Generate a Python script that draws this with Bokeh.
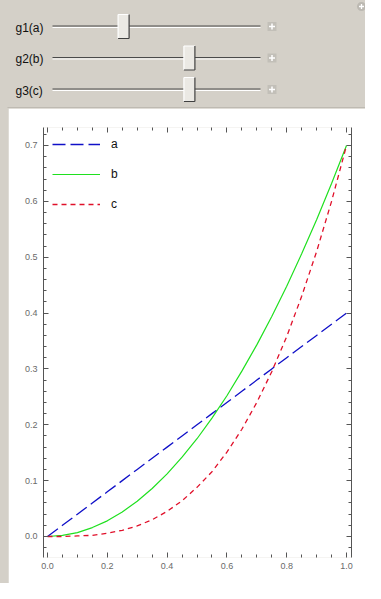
from bokeh.plotting import figure
from bokeh.models import (Range1d, LinearAxis, FixedTicker, NumeralTickFormatter,
                          CustomJSTickFormatter, Legend, LegendItem, Spacer)
from bokeh.layouts import column, row
from bokeh.core.properties import value
from bokeh.embed import file_html
from bokeh.resources import INLINE

# ---------------- data ----------------
x_vals = [0.0, 0.05, 0.1, 0.15, 0.2, 0.25, 0.3, 0.35, 0.4, 0.45, 0.5,
          0.55, 0.6, 0.65, 0.7, 0.75, 0.8, 0.85, 0.9, 0.95, 1.0]
a_vals = [0.0, 0.02, 0.04, 0.06, 0.08, 0.10, 0.12, 0.14, 0.16, 0.18, 0.20,
          0.22, 0.24, 0.26, 0.28, 0.30, 0.32, 0.34, 0.36, 0.38, 0.40]
b_vals = [0.0, 0.002, 0.007, 0.016, 0.028, 0.044, 0.063, 0.086, 0.112, 0.142, 0.175,
          0.212, 0.252, 0.296, 0.343, 0.394, 0.448, 0.506, 0.567, 0.632, 0.700]
c_vals = [0.0, 0.000, 0.001, 0.002, 0.006, 0.011, 0.019, 0.030, 0.045, 0.064, 0.088,
          0.116, 0.151, 0.192, 0.240, 0.295, 0.358, 0.430, 0.510, 0.600, 0.700]
series_names = ["a", "b", "c"]

x_ticks = [0.0, 0.2, 0.4, 0.6, 0.8, 1.0]
y_ticks = [0.0, 0.1, 0.2, 0.3, 0.4, 0.5, 0.6, 0.7]

slider_labels = ["g1(a)", "g2(b)", "g3(c)"]
slider_fraction = [0.333, 0.667, 0.667]

PANEL = "#d4d0c8"

# ---------------- control panel (decorative) ----------------
ctrl = figure(width=365, height=108, x_range=Range1d(0, 365), y_range=Range1d(108, 0),
              output_backend="svg", toolbar_location=None,
              x_axis_type=None, y_axis_type=None, min_border=0)
ctrl.frame_align = False
ctrl.grid.visible = False
ctrl.outline_line_color = None
ctrl.background_fill_color = PANEL
ctrl.border_fill_color = PANEL

rows_y = [26, 57.5, 89]
track_x0, track_x1 = 52, 260
thumb_x = [57.5 + f * 197 for f in slider_fraction]

ctrl.text(x=[15] * 3, y=[r + 1 for r in rows_y], text=slider_labels,
          text_baseline="middle", text_align="left",
          text_font=value("Liberation Sans"), text_font_size="12px", text_color="#111111")
ctrl.segment(x0=[track_x0] * 3, y0=[r - 0.5 for r in rows_y], x1=[track_x1] * 3,
             y1=[r - 0.5 for r in rows_y], line_color="#4a4a4a", line_width=1.2)
ctrl.segment(x0=[track_x0] * 3, y0=[r + 1 for r in rows_y], x1=[track_x1] * 3,
             y1=[r + 1 for r in rows_y], line_color="#ffffff", line_width=1)
# thumbs
ctrl.rect(x=thumb_x, y=rows_y, width=11, height=24, fill_color="#ebe9e4", line_color=None)
ctrl.segment(x0=[t - 5.5 for t in thumb_x], y0=[r - 12 for r in rows_y],
             x1=[t - 5.5 for t in thumb_x], y1=[r + 12 for r in rows_y],
             line_color="#ffffff", line_width=1.2)
ctrl.segment(x0=[t - 5.5 for t in thumb_x], y0=[r - 12 for r in rows_y],
             x1=[t + 5.5 for t in thumb_x], y1=[r - 12 for r in rows_y],
             line_color="#ffffff", line_width=1.2)
ctrl.segment(x0=[t + 5.5 for t in thumb_x], y0=[r - 12 for r in rows_y],
             x1=[t + 5.5 for t in thumb_x], y1=[r + 12 for r in rows_y],
             line_color="#404040", line_width=1.2)
ctrl.segment(x0=[t - 5.5 for t in thumb_x], y0=[r + 12 for r in rows_y],
             x1=[t + 5.5 for t in thumb_x], y1=[r + 12 for r in rows_y],
             line_color="#404040", line_width=1.2)
# plus boxes
ctrl.rect(x=[271.5] * 3, y=rows_y, width=9, height=9, fill_color="#c2bfb8", line_color=None)
ctrl.segment(x0=[268.5] * 3, y0=rows_y, x1=[274.5] * 3, y1=rows_y, line_color="white", line_width=1.5)
ctrl.segment(x0=[271.5] * 3, y0=[r - 3 for r in rows_y], x1=[271.5] * 3,
             y1=[r + 3 for r in rows_y], line_color="white", line_width=1.5)
ctrl.scatter(x=[361], y=[6], size=9, fill_color="#bcb9b2", line_color=None)
ctrl.segment(x0=[358.5, 361], y0=[6, 3.5], x1=[363.5, 361], y1=[6, 8.5],
             line_color="white", line_width=1.3)
# thin frame edge of the white plot box
ctrl.segment(x0=[7], y0=[107.5], x1=[365], y1=[107.5], line_color="#a8a49c", line_width=1)

# ---------------- main plot ----------------
p = figure(width=357, height=475,
           x_range=Range1d(-0.0134, 1.0167), y_range=Range1d(-0.0376, 0.7322),
           output_backend="svg", toolbar_location=None,
           x_axis_type=None, y_axis_type=None,
           min_border_left=35, min_border_right=14, min_border_top=19, min_border_bottom=26)
p.frame_align = False
p.grid.visible = False
p.outline_line_color = None
p.background_fill_color = "white"
p.border_fill_color = "white"

x_minor = [round(i * 0.05, 2) for i in range(0, 21) if i % 4]
y_minor = [round(i * 0.02, 2) for i in range(-1, 37) if i % 5]

def style_axis(ax, line_visible, labels):
    ax.major_tick_in = 5
    ax.major_tick_out = 0
    ax.minor_tick_in = 3
    ax.minor_tick_out = 0
    ax.major_tick_line_color = "#555555"
    ax.minor_tick_line_color = "#555555"
    ax.axis_line_color = "#555555" if line_visible else None
    if labels:
        ax.major_label_text_font = "Liberation Sans"
        ax.major_label_text_font_size = "9px"
        ax.major_label_text_color = "#6a6a6a"
    else:
        ax.formatter = CustomJSTickFormatter(code="return ''")
        ax.major_label_standoff = 0

left = LinearAxis(ticker=FixedTicker(ticks=y_ticks, minor_ticks=y_minor),
                  formatter=NumeralTickFormatter(format="0.0"))
style_axis(left, True, True)
left.major_label_standoff = 6
p.add_layout(left, "left")

right = LinearAxis(ticker=FixedTicker(ticks=y_ticks, minor_ticks=y_minor))
style_axis(right, True, False)
p.add_layout(right, "right")

bottom = LinearAxis(ticker=FixedTicker(ticks=x_ticks, minor_ticks=x_minor),
                    formatter=NumeralTickFormatter(format="0.0"))
style_axis(bottom, False, True)
bottom.major_label_standoff = 5
p.add_layout(bottom, "below")

top = LinearAxis(ticker=FixedTicker(ticks=x_ticks, minor_ticks=x_minor))
style_axis(top, False, False)
p.add_layout(top, "above")

ra = p.line(x_vals, a_vals, line_color="#1010c8", line_width=1.3, line_dash="13 5")
rb = p.line(x_vals, b_vals, line_color="#1fe01f", line_width=1.2)
rc = p.line(x_vals, c_vals, line_color="#e0102a", line_width=1.3, line_dash="5 4")

legend = Legend(items=[LegendItem(label=series_names[0], renderers=[ra]),
                       LegendItem(label=series_names[1], renderers=[rb]),
                       LegendItem(label=series_names[2], renderers=[rc])],
                location=(9, 343.5), glyph_width=48, glyph_height=20, label_height=20,
                spacing=10, padding=0, margin=0, label_standoff=11,
                border_line_color=None, background_fill_alpha=0,
                label_text_font="Liberation Sans", label_text_font_size="12px",
                label_text_color="#111111")
p.add_layout(legend, "center")

layout = column(ctrl, row(Spacer(width=8, height=475), p, spacing=0),
                spacing=0, width=365, height=583,
                styles={"background-color": PANEL})

open("out.html", "w").write(file_html(layout, INLINE))
